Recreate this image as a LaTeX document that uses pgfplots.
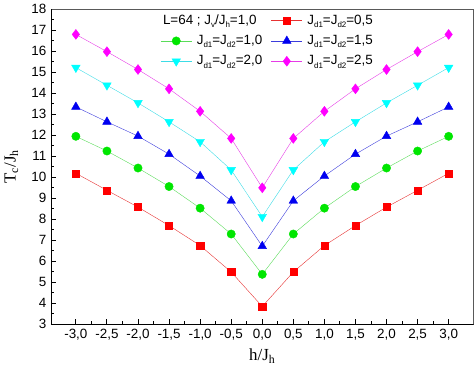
\documentclass[border=0pt]{standalone}
\usepackage{pgfplots}
\pgfplotsset{compat=1.18}
\usepackage{fontspec}
\setmainfont{Liberation Sans}
\newfontfamily\serif{Liberation Serif}
\definecolor{cgreen}{RGB}{0,230,0}
\definecolor{cgreenl}{RGB}{90,220,90}
\definecolor{cblue}{RGB}{0,0,240}
\definecolor{cbluel}{RGB}{60,60,220}
\definecolor{ccyan}{RGB}{0,255,255}
\definecolor{ccyanl}{RGB}{60,220,230}
\definecolor{cmag}{RGB}{255,0,255}
\definecolor{cmagl}{RGB}{230,60,230}
\definecolor{cred}{RGB}{255,0,0}
\definecolor{credl}{RGB}{230,50,50}
\newcommand{\sub}[1]{\raisebox{-0.45ex}{\fontsize{8}{9}\selectfont #1}}
\begin{document}
\fontsize{13.5}{15}\selectfont
\begin{tikzpicture}
\begin{axis}[
  scale only axis,
  width=425pt, height=317pt,
  xmin=-3.4, xmax=3.4, ymin=3, ymax=18,
  xtick={-3,-2.5,...,3.01},
  ytick={3,4,...,18},
  minor x tick num=1, minor y tick num=1,
  xtick pos=bottom, ytick pos=left,
  tick align=inside,
  major tick length=5pt, minor tick length=3pt,
  every tick/.style={black, line width=0.9pt},
  axis line style={black!65, line width=1pt},
  x tick label style={/pgf/number format/.cd, fixed, fixed zerofill, precision=1, use comma},
  /pgf/number format/assume math mode=true,
  tick label style={font=\fontsize{13.5}{15}\selectfont},
  xlabel={\serif\fontsize{17}{18}\selectfont h/J\textsubscript{h}},
  ylabel={\serif\fontsize{17}{18}\selectfont T\textsubscript{c}/J\textsubscript{h}},
  xlabel style={yshift=0pt},
  ylabel style={yshift=4pt},
  legend columns=2,
  legend style={draw=none, fill=none, at={(0.259,0.99)}, anchor=north west,
    inner sep=0pt,
    font=\fontsize{13.5}{15}\selectfont, row sep=5pt,
    /tikz/every odd column/.append style={column sep=3pt},
    /tikz/every even column/.append style={column sep=7pt}},
  legend cell align=left,
  legend image code/.code={\draw[mark repeat=2,mark phase=2] plot coordinates {(0pt,0pt) (15.5pt,0pt) (31pt,0pt)};},
]
\addlegendimage{empty legend}
\addlegendentry{\hspace{-34pt}L=64 ; J\sub{v}/J\sub{h}=1,0}
\addplot[credl, thin, mark=square*, mark size=3.6pt, mark options={fill=cred, draw=cred}] coordinates {
(-3,10.19) (-2.5,9.38) (-2,8.58) (-1.5,7.7) (-1,6.75) (-0.5,5.49) (0,3.85)
(0.5,5.49) (1,6.75) (1.5,7.7) (2,8.58) (2.5,9.38) (3,10.19)};
\addlegendentry{J\sub{d1}=J\sub{d2}=0,5}
\addplot[cgreenl, thin, mark=*, mark size=4.2pt, mark options={fill=cgreen, draw=cgreen}] coordinates {
(-3,11.95) (-2.5,11.25) (-2,10.44) (-1.5,9.56) (-1,8.53) (-0.5,7.3) (0,5.38)
(0.5,7.3) (1,8.53) (1.5,9.56) (2,10.44) (2.5,11.25) (3,11.95)};
\addlegendentry{J\sub{d1}=J\sub{d2}=1,0}
\addplot[cbluel, thin, mark=triangle*, mark size=5pt, mark options={fill=cblue, draw=cblue}] coordinates {
(-3,13.35) (-2.5,12.64) (-2,11.96) (-1.5,11.1) (-1,10.06) (-0.5,8.88) (0,6.72)
(0.5,8.88) (1,10.06) (1.5,11.1) (2,11.96) (2.5,12.64) (3,13.35)};
\addlegendentry{J\sub{d1}=J\sub{d2}=1,5}
\addplot[ccyanl, thin, mark=triangle*, mark size=5pt, mark options={fill=ccyan, draw=ccyan, rotate=180}] coordinates {
(-3,15.22) (-2.5,14.38) (-2,13.54) (-1.5,12.64) (-1,11.69) (-0.5,10.35) (0,8.12)
(0.5,10.35) (1,11.69) (1.5,12.64) (2,13.54) (2.5,14.38) (3,15.22)};
\addlegendentry{J\sub{d1}=J\sub{d2}=2,0}
\addplot[cmagl, thin, mark=diamond*, mark size=5pt, mark options={fill=cmag, draw=cmag}] coordinates {
(-3,16.8) (-2.5,15.98) (-2,15.13) (-1.5,14.21) (-1,13.14) (-0.5,11.85) (0,9.5)
(0.5,11.85) (1,13.14) (1.5,14.21) (2,15.13) (2.5,15.98) (3,16.8)};
\addlegendentry{J\sub{d1}=J\sub{d2}=2,5}
\draw[black, line width=1.4pt] (rel axis cs:0,1) -- (rel axis cs:0,0) -- (rel axis cs:1,0);
\end{axis}
\end{tikzpicture}
\end{document}
